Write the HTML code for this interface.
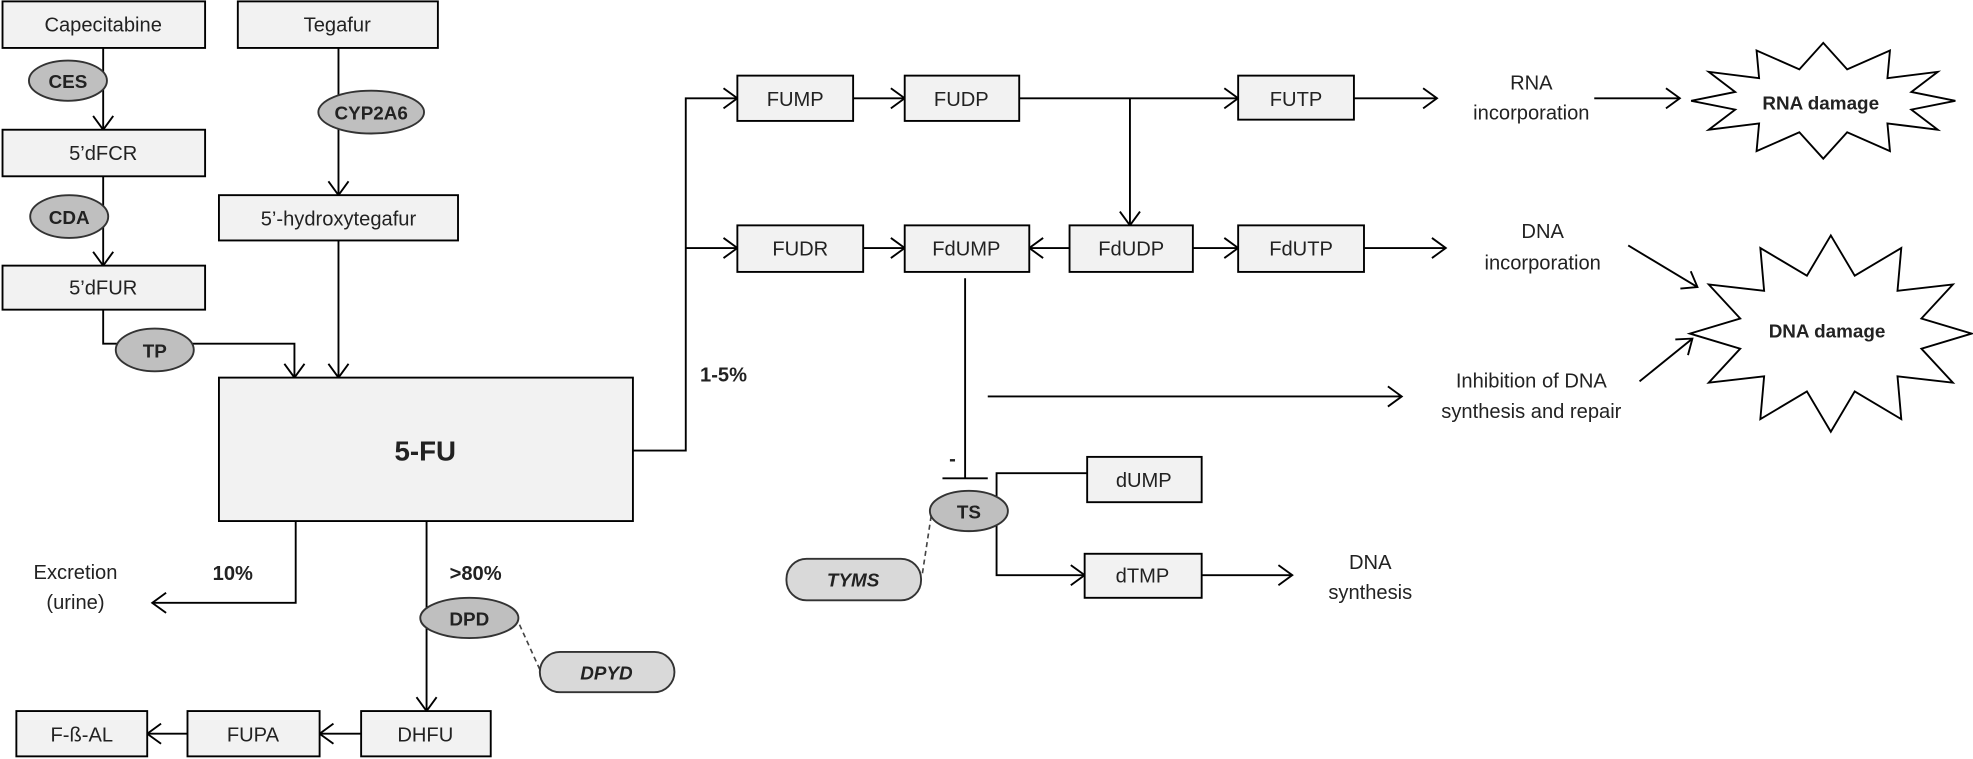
<!DOCTYPE html>
<html><head><meta charset="utf-8"><style>
html,body{margin:0;padding:0;background:#fff;}
svg{display:block;}
text{font-family:"Liberation Sans",sans-serif;font-size:16px;fill:#222;}
.b{font-weight:bold;}
.i{font-style:italic;font-weight:bold;}
</style></head><body>
<svg width="1973" height="759" viewBox="0 0 1568 603" xmlns="http://www.w3.org/2000/svg">
<defs>
<marker id="a" markerUnits="userSpaceOnUse" markerWidth="16" markerHeight="18" refX="12" refY="9" orient="auto">
<path d="M1,1 L12,9 L1,17" fill="none" stroke="#000" stroke-width="1.5"/>
</marker>
</defs>
<g fill="none" stroke="#000" stroke-width="1.5">
<line x1="82" y1="38" x2="82" y2="103" marker-end="url(#a)"/>
<line x1="82" y1="140" x2="82" y2="211" marker-end="url(#a)"/>
<polyline points="82,246 82,273 234,273 234,300" marker-end="url(#a)"/>
<line x1="269" y1="38" x2="269" y2="155" marker-end="url(#a)"/>
<line x1="269" y1="191" x2="269" y2="300" marker-end="url(#a)"/>
<polyline points="503,358 545,358 545,78 586,78" marker-end="url(#a)"/>
<line x1="545" y1="197" x2="586" y2="197" marker-end="url(#a)"/>
<polyline points="235,414 235,479 121,479" marker-end="url(#a)"/>
<line x1="339" y1="414" x2="339" y2="565" marker-end="url(#a)"/>
<line x1="287" y1="583" x2="254" y2="583" marker-end="url(#a)"/>
<line x1="149" y1="583" x2="117" y2="583" marker-end="url(#a)"/>
<line x1="678" y1="78" x2="719" y2="78" marker-end="url(#a)"/>
<line x1="810" y1="78" x2="984" y2="78" marker-end="url(#a)"/>
<line x1="898" y1="78" x2="898" y2="179" marker-end="url(#a)"/>
<line x1="686" y1="197" x2="719" y2="197" marker-end="url(#a)"/>
<line x1="850" y1="197" x2="818" y2="197" marker-end="url(#a)"/>
<line x1="948" y1="197" x2="984" y2="197" marker-end="url(#a)"/>
<line x1="1076" y1="78" x2="1142" y2="78" marker-end="url(#a)"/>
<line x1="1267" y1="78" x2="1335" y2="78" marker-end="url(#a)"/>
<line x1="1084" y1="197" x2="1149" y2="197" marker-end="url(#a)"/>
<line x1="1294" y1="195" x2="1349" y2="228" marker-end="url(#a)"/>
<line x1="1303" y1="303" x2="1345" y2="269" marker-end="url(#a)"/>
<line x1="767" y1="221" x2="767" y2="380"/>
<line x1="749" y1="380" x2="785" y2="380"/>
<line x1="785" y1="315" x2="1114" y2="315" marker-end="url(#a)"/>
<polyline points="864,376 792,376 792,457 862,457" marker-end="url(#a)"/>
<line x1="955" y1="457" x2="1027" y2="457" marker-end="url(#a)"/>
</g>
<g fill="none" stroke="#444" stroke-width="1.3" stroke-dasharray="4,3">
<line x1="410" y1="490" x2="429" y2="532"/>
<line x1="740" y1="410" x2="733" y2="456"/>
</g>
<g fill="#f2f2f2" stroke="#000" stroke-width="1.5">
<rect x="2" y="1" width="161" height="37"/>
<rect x="189" y="1" width="159" height="37"/>
<rect x="2" y="103" width="161" height="37"/>
<rect x="2" y="211" width="161" height="35"/>
<rect x="174" y="155" width="190" height="36"/>
<rect x="174" y="300" width="329" height="114"/>
<rect x="287" y="565" width="103" height="36"/>
<rect x="149" y="565" width="105" height="36"/>
<rect x="13" y="565" width="104" height="36"/>
<rect x="586" y="60" width="92" height="36"/>
<rect x="719" y="60" width="91" height="36"/>
<rect x="984" y="60" width="92" height="35"/>
<rect x="586" y="179" width="100" height="37"/>
<rect x="719" y="179" width="99" height="37"/>
<rect x="850" y="179" width="98" height="37"/>
<rect x="984" y="179" width="100" height="37"/>
<rect x="864" y="363" width="91" height="36"/>
<rect x="862" y="440" width="93" height="35"/>
</g>
<g fill="#bfbfbf" stroke="#333" stroke-width="1.5">
<ellipse cx="54" cy="64" rx="31" ry="16"/>
<ellipse cx="55" cy="172" rx="31" ry="17"/>
<ellipse cx="123" cy="278" rx="31" ry="17"/>
<ellipse cx="295" cy="89" rx="42" ry="17"/>
<ellipse cx="373" cy="491" rx="39" ry="16"/>
<ellipse cx="770" cy="406" rx="31" ry="16"/>
</g>
<g fill="#d9d9d9" stroke="#333" stroke-width="1.5">
<rect x="429" y="518" width="107" height="32" rx="16"/>
<rect x="625" y="444" width="107" height="33" rx="16"/>
</g>
<g fill="#fff" stroke="#000" stroke-width="1.5">
<polygon points="1554,80 1519,87 1540,103 1500,98 1502,120 1468,105 1449,126 1430,105 1396,120 1398,98 1358,103 1379,87 1344,80 1379,73 1358,57 1398,62 1396,40 1430,55 1449,34 1468,55 1502,40 1500,62 1540,57 1519,73"/>
<polygon points="1567,265 1527,277 1552,304 1508,299 1511,333 1474,311 1455,343 1436,311 1399,333 1402,299 1358,304 1383,277 1343,265 1383,253 1358,226 1402,231 1399,197 1436,219 1455,187 1474,219 1511,197 1508,231 1552,226 1527,253"/>
</g>
<g text-anchor="middle">
<text x="82" y="25">Capecitabine</text>
<text x="268" y="25">Tegafur</text>
<text x="82" y="127">5’dFCR</text>
<text x="82" y="234">5’dFUR</text>
<text x="269" y="179">5’-hydroxytegafur</text>
<text x="338" y="366" class="b" style="font-size:22px">5-FU</text>
<text x="338" y="589">DHFU</text>
<text x="201" y="589">FUPA</text>
<text x="65" y="589">F-ß-AL</text>
<text x="632" y="84">FUMP</text>
<text x="764" y="84">FUDP</text>
<text x="1030" y="84">FUTP</text>
<text x="636" y="203">FUDR</text>
<text x="768" y="203">FdUMP</text>
<text x="899" y="203">FdUDP</text>
<text x="1034" y="203">FdUTP</text>
<text x="909" y="387">dUMP</text>
<text x="908" y="463">dTMP</text>
<text x="54" y="70" class="b" style="font-size:15px">CES</text>
<text x="55" y="178" class="b" style="font-size:15px">CDA</text>
<text x="123" y="284" class="b" style="font-size:15px">TP</text>
<text x="295" y="95" class="b" style="font-size:15px">CYP2A6</text>
<text x="373" y="497" class="b" style="font-size:15px">DPD</text>
<text x="770" y="412" class="b" style="font-size:15px">TS</text>
<text x="482" y="540" class="i" style="font-size:15px">DPYD</text>
<text x="678" y="466" class="i" style="font-size:15px">TYMS</text>
<text x="1447" y="87" class="b" style="font-size:15px">RNA damage</text>
<text x="1452" y="268" class="b" style="font-size:15px">DNA damage</text>
<text x="1217" y="71">RNA</text>
<text x="1217" y="95">incorporation</text>
<text x="1226" y="189">DNA</text>
<text x="1226" y="214">incorporation</text>
<text x="1217" y="308">Inhibition of DNA</text>
<text x="1217" y="332">synthesis and repair</text>
<text x="1089" y="452">DNA</text>
<text x="1089" y="476">synthesis</text>
<text x="60" y="460">Excretion</text>
<text x="60" y="484">(urine)</text>
<text x="185" y="461" class="b">10%</text>
<text x="378" y="461" class="b">&gt;80%</text>
<text x="575" y="303" class="b">1-5%</text>
<text x="757" y="370" class="b">-</text>
</g>
</svg>
</body></html>
